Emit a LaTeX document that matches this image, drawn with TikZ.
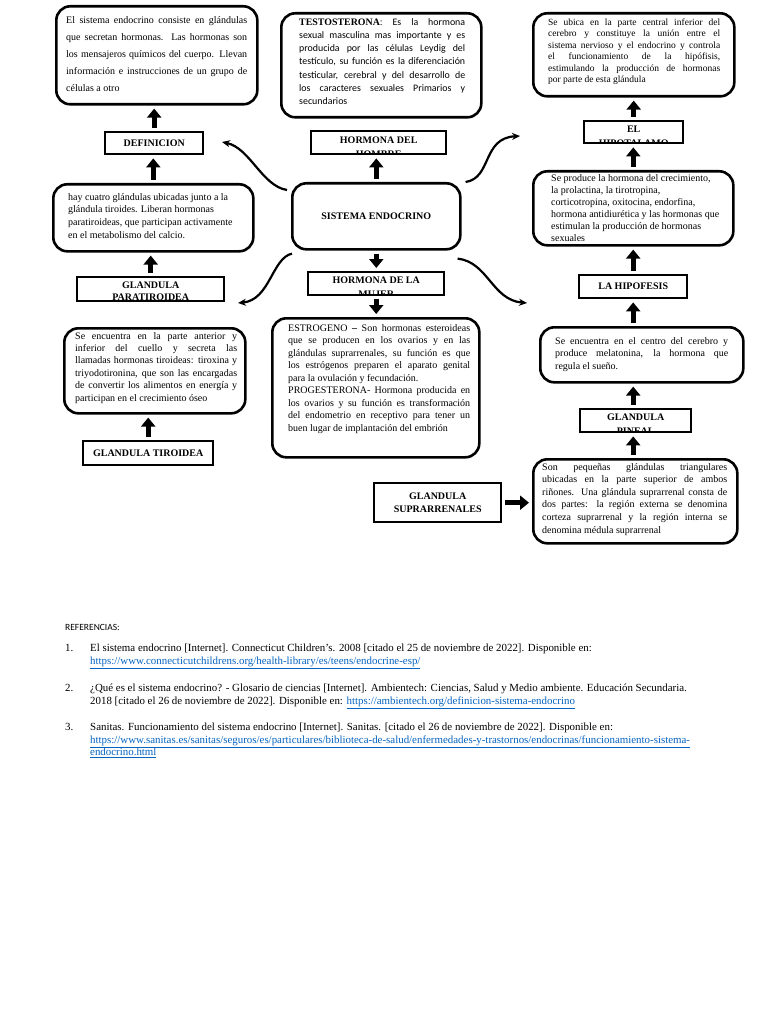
\documentclass[tikz,border=0pt]{standalone}
\usepackage{fontspec}
\setmainfont{Liberation Serif}
\newfontfamily\carl{Carlito}
\usetikzlibrary{arrows.meta,calc}
\definecolor{linkc}{HTML}{0563C1}
\newcommand\jw{100pt}
\newcommand\J[1]{\makebox[\jw][s]{#1}}
\newcommand\lk[1]{\textcolor{linkc}{\underline{#1}}}
\begin{document}
\begin{tikzpicture}[x=1pt,y=-1pt,
 rbox/.style={draw, line width=2.6pt, rounded corners=14pt, inner sep=0pt, anchor=north west},
 sbox/.style={draw, line width=2.4pt, inner sep=0pt, anchor=north west, font=\fontsize{10}{12.5}\selectfont\bfseries, align=center},
 body/.style={anchor=north west, inner sep=0pt, align=left},
 lbl/.style={font=\fontsize{10}{14}\selectfont\bfseries, align=center, inner sep=0pt, anchor=north},
 barrow/.style={line width=5pt, -{Triangle[width=14pt,length=9pt]}, shorten >=3pt, shorten <=3pt},
 carrow/.style={line width=2.2pt, -{Stealth[length=8pt,width=7pt]}},
 ref/.style={anchor=base west, inner sep=0pt, font=\fontsize{10.9}{13}\selectfont}
]
\fill[white] (0,0) rectangle (768,1024);
\useasboundingbox (0,0) rectangle (768,1024);

% ---------- left column ----------
\node[rbox, minimum width=201pt, minimum height=98pt] (defbox) at (55,5) {};
\gdef\jw{181pt}
\node[body, font=\fontsize{10}{17}\selectfont] (deftxt) at (66,16) {%
\J{El sistema endocrino consiste en glándulas}\\
\J{que secretan hormonas. Las hormonas son}\\
\J{los mensajeros químicos del cuerpo. Llevan}\\
\J{información e instrucciones de un grupo de}\\
células a otro};
\node[sbox, minimum width=98pt, minimum height=22pt] (def) at (104,131) {DEFINICION};

\node[rbox, minimum width=200pt, minimum height=67pt] (parabox) at (52,183) {};
\node[body, font=\fontsize{10}{12.7}\selectfont] (paratxt) at (68,193) {%
hay cuatro glándulas ubicadas junto a la\\
glándula tiroides. Liberan hormonas\\
paratiroideas, que participan activamente\\
en el metabolismo del calcio.};

\node[sbox, minimum width=147pt, minimum height=24pt] (para) at (76,276) {};
\begin{scope}
\clip ([shift={(1.2pt,1.2pt)}]para.south west) rectangle ([shift={(-1.2pt,-1.2pt)}]para.north east);
\node[lbl, font=\fontsize{10}{12}\selectfont\bfseries] (paralbl) at ([yshift=-5.5pt]para.north) {GLANDULA\\PARATIROIDEA};
\end{scope}

\node[rbox, minimum width=181pt, minimum height=85pt] (tirbox) at (63,327) {};
\gdef\jw{162pt}
\node[body, font=\fontsize{10}{12.4}\selectfont] (tirtxt) at (75,332) {%
\J{Se encuentra en la parte anterior y}\\
\J{inferior del cuello y secreta las}\\
\J{llamadas hormonas tiroideas: tiroxina y}\\
\J{triyodotironina, que son las encargadas}\\
\J{de convertir los alimentos en energía y}\\
participan en el crecimiento óseo};
\node[sbox, minimum width=130pt, minimum height=24pt] (tir) at (82,440) {GLANDULA TIROIDEA};

\draw[barrow] (def.north) -- (def.north |- defbox.south);
\draw[barrow] (parabox.north) -- (parabox.north |- def.south);
\draw[barrow] (para.north) -- (para.north |- parabox.south);
\draw[barrow] (tir.north) -- (tir.north |- tirbox.south);

% ---------- centre column ----------
\node[rbox, minimum width=200pt, minimum height=104pt] (tesbox) at (280,12) {};
\gdef\jw{166pt}
\node[body, font=\carl\fontsize{9.9}{13.3}\selectfont] (testxt) at (299,18) {%
\J{{\rmfamily\bfseries TESTOSTERONA}{\rmfamily:} Es la hormona}\\
\J{sexual masculina mas importante y es}\\
\J{producida por las células Leydig del}\\
\J{testículo, su función es la diferenciación}\\
\J{testicular, cerebral y del desarrollo de}\\
\J{los caracteres sexuales Primarios y}\\
secundarios};

\node[sbox, minimum width=135pt, minimum height=23pt] (hom) at (310,130) {};
\begin{scope}
\clip ([shift={(1.2pt,1.2pt)}]hom.south west) rectangle ([shift={(-1.2pt,-1.2pt)}]hom.north east);
\node[lbl] (homlbl) at ([yshift=-6.5pt]hom.north) {HORMONA DEL\\HOMBRE};
\end{scope}

\node[rbox, minimum width=168pt, minimum height=66pt, font=\fontsize{10}{12}\selectfont\bfseries] (cen) at (291,182) {SISTEMA ENDOCRINO};

\node[sbox, minimum width=136pt, minimum height=23pt] (muj) at (307,271) {};
\begin{scope}
\clip ([shift={(1.2pt,1.2pt)}]muj.south west) rectangle ([shift={(-1.2pt,-1.2pt)}]muj.north east);
\node[lbl] (mujlbl) at ([yshift=-5.5pt]muj.north) {HORMONA DE LA\\MUJER};
\end{scope}

\node[rbox, minimum width=207pt, minimum height=139pt] (estbox) at (271,317) {};
\gdef\jw{182pt}
\node[body, font=\fontsize{10}{12.5}\selectfont] (esttxt) at (288,324) {%
\J{ESTROGENO \textbf{–} Son hormonas esteroideas}\\
\J{que se producen en los ovarios y en las}\\
\J{glándulas suprarrenales, su función es que}\\
\J{los estrógenos preparen el aparato genital}\\
para la ovulación y fecundación.\\
\J{PROGESTERONA- Hormona producida en}\\
\J{los ovarios y su función es transformación}\\
\J{del endometrio en receptivo para tener un}\\
buen lugar de implantación del embrión};

\draw[barrow] (cen.north) -- (cen.north |- hom.south);
\draw[barrow] (cen.south) -- (cen.south |- muj.north);
\draw[barrow] (muj.south) -- (muj.south |- estbox.north);

% ---------- right column ----------
\node[rbox, minimum width=201pt, minimum height=83pt] (hypbox) at (532,12) {};
\gdef\jw{172pt}
\node[body, font=\fontsize{9.5}{11.5}\selectfont] (hyptxt) at (548,18.5) {%
\J{Se ubica en la parte central inferior del}\\
\J{cerebro y constituye la unión entre el}\\
\J{sistema nervioso y el endocrino y controla}\\
\J{el funcionamiento de la hipófisis,}\\
\J{estimulando la producción de hormonas}\\
por parte de esta glándula};

\node[sbox, minimum width=99pt, minimum height=22pt] (el) at (583,120) {};
\begin{scope}
\clip ([shift={(1.2pt,1.2pt)}]el.south west) rectangle ([shift={(-1.2pt,-1.2pt)}]el.north east);
\node[lbl] (ellbl) at ([yshift=-5.5pt]el.north) {EL\\HIPOTALAMO};
\end{scope}

\node[rbox, minimum width=200pt, minimum height=74pt] (pitbox) at (532,170) {};
\node[body, font=\fontsize{10}{12}\selectfont] (pittxt) at (551,174) {%
Se produce la hormona del crecimiento,\\
la prolactina, la tirotropina,\\
corticotropina, oxitocina, endorfina,\\
hormona antidiurética y las hormonas que\\
estimulan la producción de hormonas\\
sexuales};

\node[sbox, minimum width=108pt, minimum height=23pt] (hip) at (578,274) {LA HIPOFESIS};

\node[rbox, minimum width=203pt, minimum height=55pt] (pinbox) at (539,326) {};
\gdef\jw{173pt}
\node[body, font=\fontsize{10}{12.5}\selectfont] (pintxt) at (555,337) {%
\J{Se encuentra en el centro del cerebro y}\\
\J{produce melatonina, la hormona que}\\
regula el sueño.};

\node[sbox, minimum width=111pt, minimum height=23pt] (pin) at (579,408) {};
\begin{scope}
\clip ([shift={(1.2pt,1.2pt)}]pin.south west) rectangle ([shift={(-1.2pt,-1.2pt)}]pin.north east);
\node[lbl] (pinlbl) at ([yshift=-5.5pt]pin.north) {GLANDULA\\PINEAL};
\end{scope}

\node[rbox, minimum width=204pt, minimum height=84pt] (supbox) at (532,458) {};
\gdef\jw{185pt}
\node[body, font=\fontsize{10}{12.6}\selectfont] (suptxt) at (542,463) {%
\J{Son pequeñas glándulas triangulares}\\
\J{ubicadas en la parte superior de ambos}\\
\J{riñones. Una glándula suprarrenal consta de}\\
\J{dos partes: la región externa se denomina}\\
\J{corteza suprarrenal y la región interna se}\\
denomina médula suprarrenal};

\node[sbox, minimum width=127pt, minimum height=39pt, font=\fontsize{10}{13}\selectfont\bfseries] (sup) at (373,482) {GLANDULA\\SUPRARRENALES};

\draw[barrow] (el.north) -- (el.north |- hypbox.south);
\draw[barrow] (pitbox.north) -- (pitbox.north |- el.south);
\draw[barrow] (hip.north) -- (hip.north |- pitbox.south);
\draw[barrow] (hip.south |- pinbox.north) -- (hip.south);
\draw[barrow] (hip.south |- pin.north) -- (hip.south |- pinbox.south);
\draw[barrow] (hip.south |- supbox.north) -- (hip.south |- pin.south);
\draw[barrow] (sup.east) -- (sup.east -| supbox.west);

% ---------- curved connectors ----------
\coordinate (c1s) at ($(cen.north west)+(-4,8)$);
\coordinate (c1e) at (222,142);
\draw[carrow] (c1s) .. controls (262,186) and (250,148) .. (c1e);
\coordinate (c2s) at ($(cen.south west)+(1,3)$);
\coordinate (c2e) at (238,303);
\draw[carrow] (c2s) .. controls (272,258) and (270,300) .. (c2e);
\coordinate (c3s) at ($(cen.north east)+(4,0)$);
\coordinate (c3e) at (520,136);
\draw[carrow] (c3s) .. controls (492,178) and (482,138) .. (c3e);
\coordinate (c4s) at ($(cen.south east)+(-4,8)$);
\coordinate (c4e) at (527,303);
\draw[carrow] (c4s) .. controls (488,262) and (492,300) .. (c4e);

% ---------- references ----------
\node[ref, font=\carl\fontsize{9.5}{11}\selectfont] (refh) at (65,630) {REFERENCIAS:};
\node[ref] (n1) at (65,651.5) {1.};
\node[ref] (r1a) at (90,651.5) {El sistema endocrino [Internet]. Connecticut Children’s. 2008 [citado el 25 de noviembre de 2022]. Disponible en:};
\node[ref] (r1b) at (90,664.5) {\lk{https://www.connecticutchildrens.org/health-library/es/teens/endocrine-esp/}};
\node[ref] (n2) at (65,691.5) {2.};
\node[ref] (r2a) at (90,691.5) {¿Qué es el sistema endocrino? - Glosario de ciencias [Internet]. Ambientech: Ciencias, Salud y Medio ambiente. Educación Secundaria.};
\node[ref] (r2b) at (90,704.5) {2018 [citado el 26 de noviembre de 2022]. Disponible en: \lk{https://ambientech.org/definicion-sistema-endocrino}};
\node[ref] (n3) at (65,730.5) {3.};
\node[ref] (r3a) at (90,730.5) {Sanitas. Funcionamiento del sistema endocrino [Internet]. Sanitas. [citado el 26 de noviembre de 2022]. Disponible en:};
\node[ref] (r3b) at (90,743.5) {\lk{https://www.sanitas.es/sanitas/seguros/es/particulares/biblioteca-de-salud/enfermedades-y-trastornos/endocrinas/funcionamiento-sistema-}};
\node[ref] (r3c) at (90,755.5) {\lk{endocrino.html}};
\end{tikzpicture}
\end{document}
